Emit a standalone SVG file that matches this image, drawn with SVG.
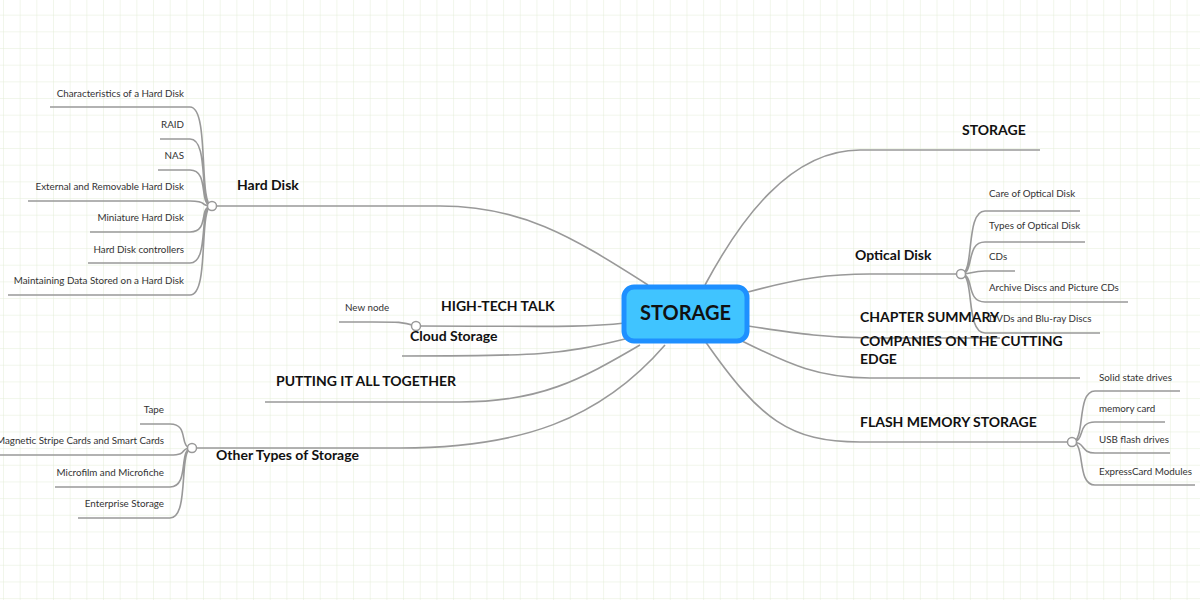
<svg xmlns="http://www.w3.org/2000/svg" width="1200" height="600" viewBox="0 0 1200 600">
<style>
.c{fill:none;stroke:#999;stroke-width:1.6}
.k{fill:#fff;stroke:#999;stroke-width:1.5}
.t{font-family:Lato,"Open Sans",sans-serif;font-weight:bold;font-size:14px;fill:#111}
.s{font-family:Lato,"Open Sans",sans-serif;font-size:9.8px;fill:#333}
.e{text-anchor:end}
</style>
<defs>
<pattern id="g" width="16.67" height="16.67" patternUnits="userSpaceOnUse" x="3" y="-2">
<path d="M0 0H16.67M0 0V16.67" fill="none" stroke="#e3edd8" stroke-width="1"/>
</pattern>
</defs>
<rect width="1200" height="600" fill="#fff"/>
<rect width="1200" height="600" fill="url(#g)"/>
<g id="connectors">
<path class="c" d="M705 285C740 220 790 150 860 150H1040"/>
<path class="c" d="M748 292C800 278 830 274 870 274H961"/>
<path class="c" d="M961 274C975 274 965 211 985 211H1080M961 274C975 274 965 242 985 242H1085M961 274C975 274 970 271 985 271H1015M961 274C975 274 965 302 985 302H1128M961 274C975 274 965 333 985 333H1100"/>
<path class="c" d="M748 326C800 334 830 338 870 338H1000"/>
<path class="c" d="M742 341C790 365 820 378 870 378H1080"/>
<path class="c" d="M705 341C760 420 790 442 860 442H1072"/>
<path class="c" d="M1072 442C1086 442 1076 391 1095 391H1180M1072 442C1086 442 1076 422 1095 422H1165M1072 442C1086 442 1080 453 1095 453H1170M1072 442C1086 442 1076 485 1095 485H1195"/>
<path class="c" d="M648 285C570 235 520 206 440 206H212"/>
<path class="c" d="M212 206C198 206 210 107 190 107H50M212 206C198 206 210 139 190 139H160M212 206C198 206 210 170 190 170H158M212 206C198 206 210 201 190 201H28M212 206C198 206 210 232 190 232H90M212 206C198 206 210 263 190 263H88M212 206C198 206 210 295 190 295H8"/>
<path class="c" d="M625 323C580 328 540 326 416 326"/>
<path class="c" d="M416 326C400 321 400 322 339 322"/>
<path class="c" d="M625 339C560 355 540 356 402 356"/>
<path class="c" d="M640 345C580 380 540 402 460 402H265"/>
<path class="c" d="M665 345C600 420 520 448 400 448H192"/>
<path class="c" d="M192 448C178 448 190 424 170 424H140M192 448C178 448 190 455 170 455H0M192 448C178 448 190 487 170 487H55M192 448C178 448 190 518 170 518H78"/>
</g>
<g id="center"><rect x="624" y="287" width="123" height="54" rx="10" fill="#40c4ff" stroke="#1e90ff" stroke-width="5"/><text x="685.5" y="320" text-anchor="middle" font-family="Lato,'Open Sans',sans-serif" font-weight="bold" font-size="20" fill="#111">STORAGE</text></g>
<g id="storage2"><text class="t" x="962" y="135">STORAGE</text></g>
<g id="optical"><text class="t" x="855" y="260">Optical Disk</text><circle class="k" cx="961" cy="274" r="4.5"/>
<text class="s" x="989" y="197">Care of Optical Disk</text><text class="s" x="989" y="229">Types of Optical Disk</text><text class="s" x="989" y="260">CDs</text><text class="s" x="989" y="291">Archive Discs and Picture CDs</text><text class="s" x="989" y="322">DVDs and Blu-ray Discs</text></g>
<g id="chapter"><text class="t" x="860" y="322">CHAPTER SUMMARY</text></g>
<g id="companies"><text class="t" x="860" y="346">COMPANIES ON THE CUTTING</text><text class="t" x="860" y="364">EDGE</text></g>
<g id="flash"><text class="t" x="860" y="427">FLASH MEMORY STORAGE</text><circle class="k" cx="1072" cy="442" r="4.5"/>
<text class="s" x="1099" y="381">Solid state drives</text><text class="s" x="1099" y="412">memory card</text><text class="s" x="1099" y="443">USB flash drives</text><text class="s" x="1099" y="475">ExpressCard Modules</text></g>
<g id="harddisk"><text class="t" x="237" y="190">Hard Disk</text><circle class="k" cx="212" cy="206" r="4.5"/>
<text class="s e" x="184" y="97">Characteristics of a Hard Disk</text><text class="s e" x="184" y="128">RAID</text><text class="s e" x="184" y="159">NAS</text><text class="s e" x="184" y="190">External and Removable Hard Disk</text><text class="s e" x="184" y="221">Miniature Hard Disk</text><text class="s e" x="184" y="253">Hard Disk controllers</text><text class="s e" x="184" y="284">Maintaining Data Stored on a Hard Disk</text></g>
<g id="hightech"><text class="t" x="441" y="311">HIGH-TECH TALK</text><circle class="k" cx="416" cy="326" r="4.5"/><text class="s" x="345" y="311">New node</text></g>
<g id="cloud"><text class="t" x="410" y="341">Cloud Storage</text></g>
<g id="putting"><text class="t" x="276" y="386">PUTTING IT ALL TOGETHER</text></g>
<g id="other"><text class="t" x="216" y="460">Other Types of Storage</text><circle class="k" cx="192" cy="448" r="4.5"/>
<text class="s e" x="164" y="413">Tape</text><text class="s e" x="164" y="444">Magnetic Stripe Cards and Smart Cards</text><text class="s e" x="164" y="476">Microfilm and Microfiche</text><text class="s e" x="164" y="507">Enterprise Storage</text></g>
</svg>
